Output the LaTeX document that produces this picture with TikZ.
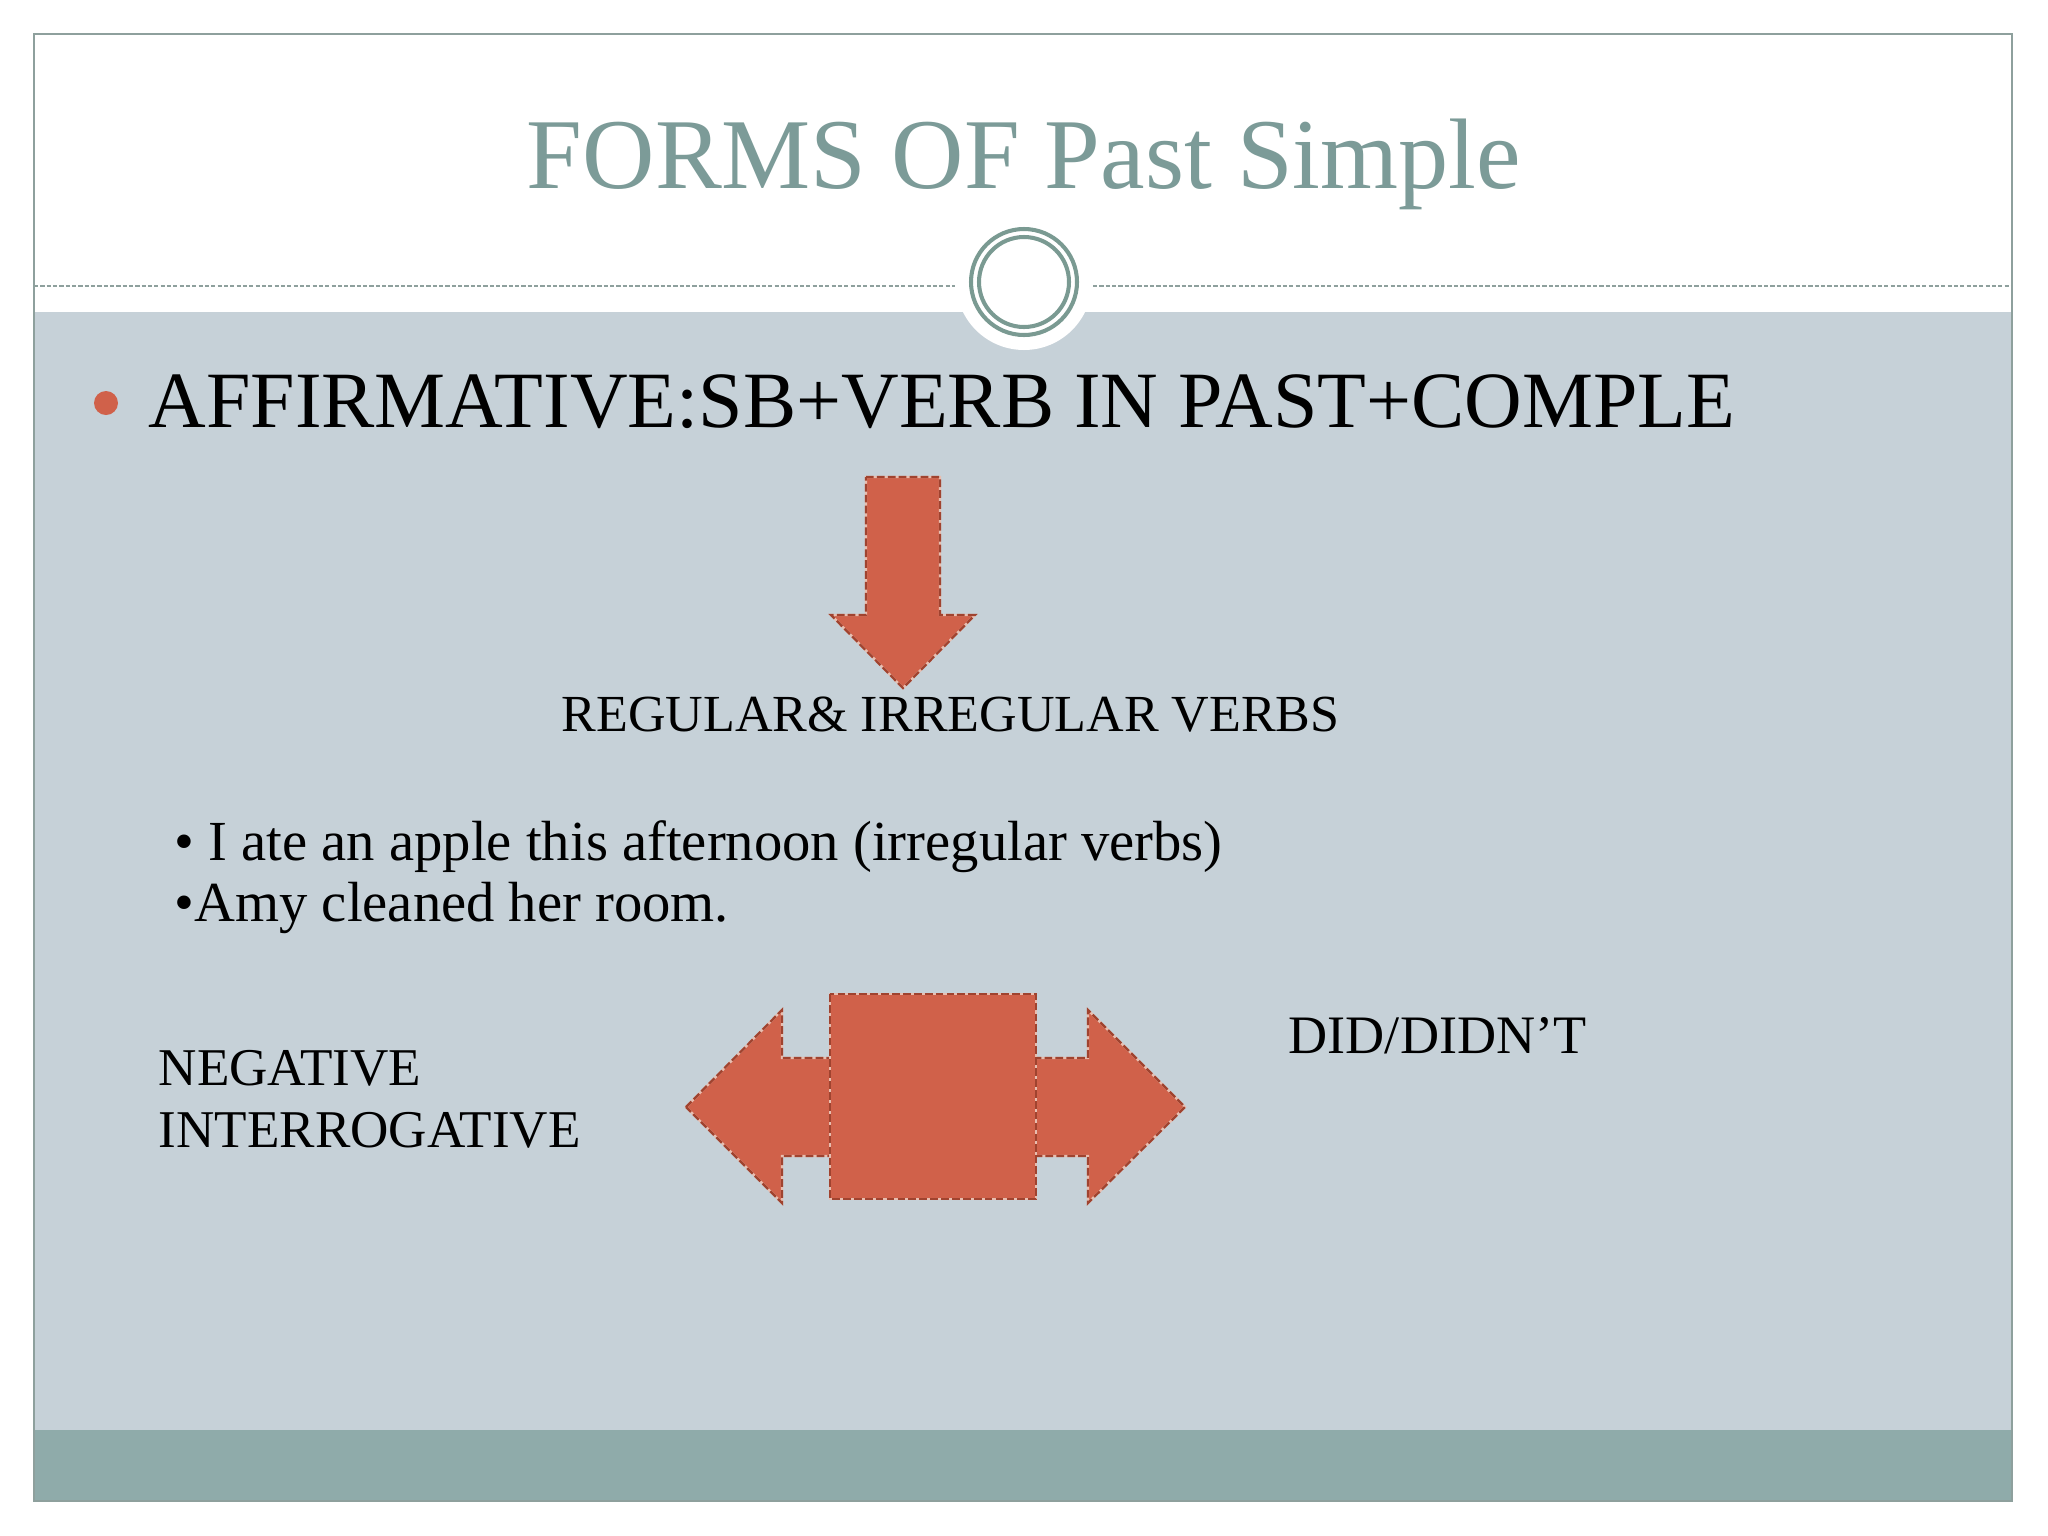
\documentclass[tikz,border=0pt]{standalone}
\usepackage{fontspec}
\setmainfont{Liberation Serif}
\usetikzlibrary{calc}
\definecolor{slideBand}{RGB}{198,209,216}
\definecolor{slideFoot}{RGB}{143,171,170}
\definecolor{slideFrame}{RGB}{142,160,157}
\definecolor{titleTeal}{RGB}{124,155,152}
\definecolor{ringTeal}{RGB}{122,154,146}
\definecolor{arrowRed}{RGB}{208,97,74}
\definecolor{arrowEdge}{RGB}{160,67,47}
\definecolor{arrowGap}{RGB}{232,190,176}
\tikzset{
  redShape/.style={fill=arrowRed, draw=arrowGap, line width=0.65pt, line join=miter,
    postaction={draw=arrowEdge, line width=0.65pt, dash pattern=on 2.2pt off 0.9pt}},
  slideText/.style={inner sep=0pt, text=black},
  bodyFont/.style={font=\fontsize{15.1}{18}\selectfont},
}

\begin{document}
\begin{tikzpicture}[x=0.01cm, y=-0.01cm]

%%%%%%%%%%%%%%%%%%%%%%%%%%%%%%%%%%%%%%%%%%%%%%%%%%%%%%%%%%%%%% Setup
\coordinate (C) at (0, 0);
\useasboundingbox ($(C)+(0,0)$) rectangle ($(C)+(2048,1536)$);
\fill[white] ($(C)+(0,0)$) rectangle ($(C)+(2048,1536)$);

%%%%%%%%%%%%%%%%%%%%%%%%%%%%%%%%%%%%%%%%%%%%%%%%%%%%%%%%%%%%%% Slide

% body band and footer
\fill[slideBand] ($(C)+(34,312)$) rectangle ($(C)+(2012,1430)$);
\fill[slideFoot] ($(C)+(34,1430)$) rectangle ($(C)+(2012,1501)$);
\draw[slideFrame, line width=0.6pt] ($(C)+(34,34)$) rectangle ($(C)+(2012,1501)$);

% divider with the ring
\draw[slideFrame, line width=0.45pt, dash pattern=on 1.2pt off 0.6pt] ($(C)+(34,286)$) -- ($(C)+(955,286)$);
\draw[slideFrame, line width=0.45pt, dash pattern=on 1.2pt off 0.6pt] ($(C)+(1093,286)$) -- ($(C)+(2012,286)$);
\fill[white] ($(C)+(1024,282)$) circle (68);
\draw[ringTeal, line width=1.15pt] ($(C)+(1024,282)$) circle (53);
\draw[ringTeal, line width=1.15pt] ($(C)+(1024,282)$) circle (45);

\node[anchor=base, inner sep=0pt, text=titleTeal, font=\fontsize{28.5}{34}\selectfont] (title) at ($(C)+(1024,188)$) {FORMS OF Past Simple};

%%%%%%%%%%%%%%%%%%%%%%%%%%%%%%%%%%%%%%%%%%%%%%%%%%%%%%%%%%%%%% Affirmative

\fill[arrowRed] ($(C)+(106,403)$) circle (12);
\node[slideText, anchor=base west, font=\fontsize{22.7}{27}\selectfont] (affirm) at ($(C)+(148,427)$) {AFFIRMATIVE:SB+VERB IN PAST+COMPLE};

% down arrow
\filldraw[redShape] ($(C)+(866,477)$) -- ($(C)+(940,477)$) -- ($(C)+(940,615)$) -- ($(C)+(975,615)$)
  -- ($(C)+(903,688)$) -- ($(C)+(831,615)$) -- ($(C)+(866,615)$) -- cycle;

\node[slideText, anchor=base west, font=\fontsize{14.8}{18}\selectfont] (verbs) at ($(C)+(561,731)$) {REGULAR\& IRREGULAR VERBS};

\node[slideText, anchor=base west, font=\fontsize{16.1}{19}\selectfont] (ex1) at ($(C)+(174,860)$) {• I ate an apple this afternoon (irregular verbs)};
\node[slideText, anchor=base west, font=\fontsize{16.1}{19}\selectfont] (ex2) at ($(C)+(174,921)$) {•Amy cleaned her room.};

%%%%%%%%%%%%%%%%%%%%%%%%%%%%%%%%%%%%%%%%%%%%%%%%%%%%%%%%%%%%%% Negative / interrogative

\node[slideText, bodyFont, anchor=base west] (neg) at ($(C)+(158,1085)$) {NEGATIVE};
\node[slideText, bodyFont, anchor=base west] (interr) at ($(C)+(158,1147)$) {INTERROGATIVE};
\node[slideText, anchor=base west, font=\fontsize{15.4}{18}\selectfont] (did) at ($(C)+(1288,1053)$) {DID/DIDN’T};

% left-right arrow behind the box
\filldraw[redShape] ($(C)+(686,1107)$) -- ($(C)+(782,1010)$) -- ($(C)+(782,1058)$) -- ($(C)+(1088,1058)$)
  -- ($(C)+(1088,1010)$) -- ($(C)+(1185,1107)$) -- ($(C)+(1088,1203)$) -- ($(C)+(1088,1156)$)
  -- ($(C)+(782,1156)$) -- ($(C)+(782,1203)$) -- cycle;
\filldraw[redShape] ($(C)+(830,994)$) rectangle ($(C)+(1036,1199)$);

\end{tikzpicture}
\end{document}
